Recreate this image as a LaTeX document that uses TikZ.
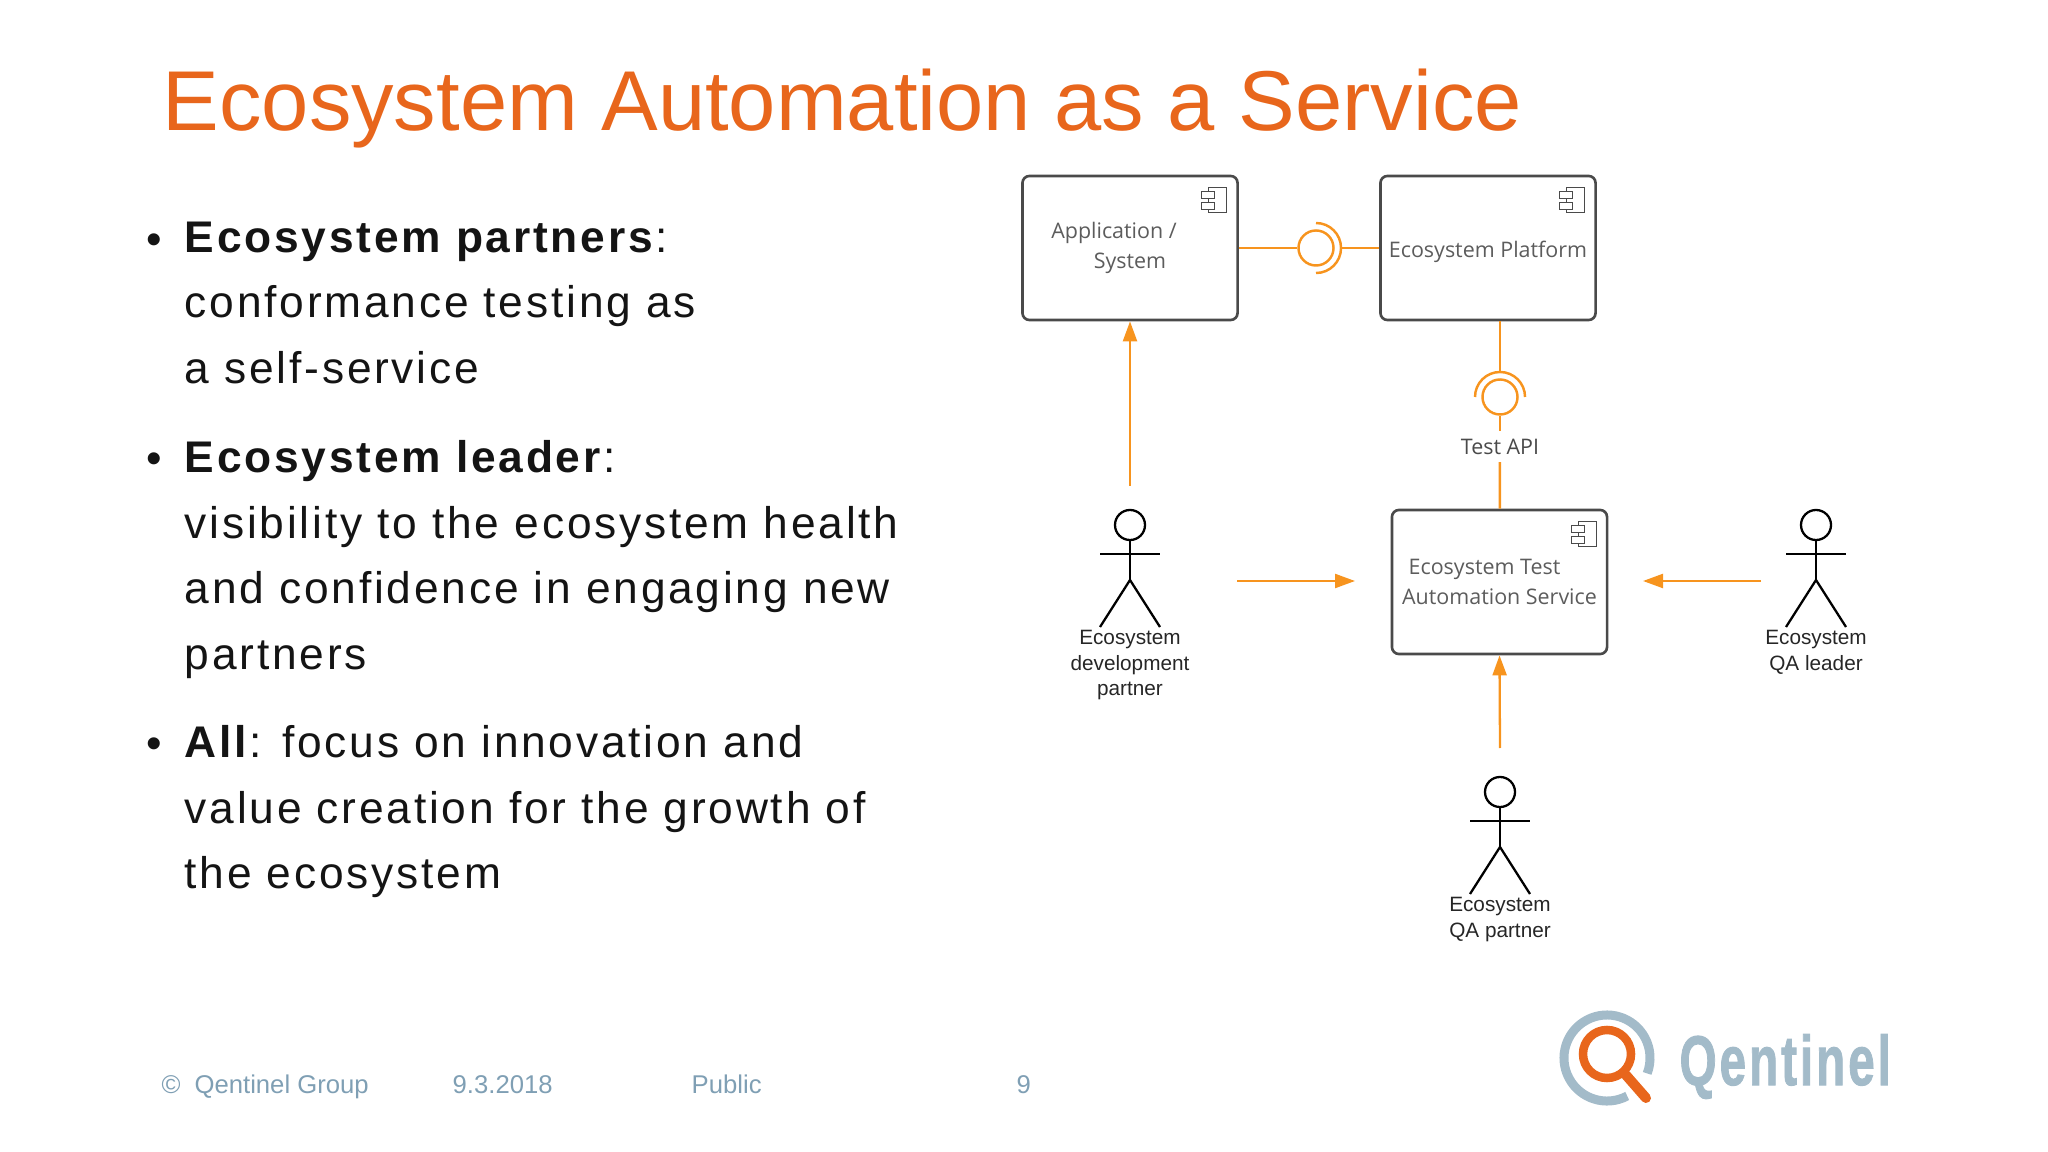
\documentclass[tikz,border=0pt]{standalone}
\usepackage{fontspec}
\setmainfont{Liberation Sans}
\newfontfamily\bodyfam[LetterSpace=6.3]{Liberation Sans}
\newfontfamily\boxfam{Open Sans}
\newfontfamily\logofam[LetterSpace=6, FakeBold=1.5]{Liberation Sans}
\usetikzlibrary{arrows.meta}

\definecolor{qorange}{HTML}{E8661C}
\definecolor{lineorange}{HTML}{F7941E}
\definecolor{footblue}{HTML}{7F9FB4}
\definecolor{logoblue}{HTML}{A3BBC9}
\definecolor{boxline}{HTML}{4A4A4A}

\tikzset{
    px/.style={x=0.01cm, y=-0.01cm},
    compbox/.style={draw=boxline, line width=0.75pt, rounded corners=2pt, minimum width=2.15cm, minimum height=1.44cm, inner sep=0pt, align=center, font=\boxfam\fontsize{6.1}{8.4}\selectfont, text=boxline!90},
    iface/.style={draw=lineorange, line width=0.7pt},
    ifacering/.style={circle, draw=lineorange, line width=0.7pt, minimum size=0.35cm, inner sep=0pt},
    flow/.style={draw=lineorange, line width=0.65pt, -{Triangle[length=0.2cm, width=0.14cm]}},
    actorlabel/.style={align=center, anchor=north, inner sep=0pt, text=black!85, font=\fontsize{5.9}{7.25}\selectfont},
    bodytext/.style={anchor=north west, inner sep=0pt, align=left, text=black!92, font=\bodyfam\fontsize{12.6}{18.6}\selectfont},
    foottext/.style={anchor=base west, inner sep=0pt, text=footblue, font=\fontsize{7.3}{9}\selectfont},
}

\begin{document}
\begin{tikzpicture}[px]
    \useasboundingbox (0, 0) rectangle (2048, 1152);

    \node[anchor=base west, inner sep=0pt, text=qorange, font=\fontsize{24.15}{29}\selectfont] (title) at (162, 130.5) {Ecosystem Automation as a Service};

    % bullet text
    \node[bodytext] (partners) at (184, 221) {\textbf{Ecosystem partners}:\\conformance testing as\\a self-service};
    \node[bodytext] (leader) at (184, 440) {\textbf{Ecosystem leader}:\\visibility to the ecosystem health\\and confidence in engaging new\\partners};
    \node[bodytext] (all) at (184, 725) {\textbf{All}: focus on innovation and\\value creation for the growth of\\the ecosystem};
    \foreach \p in {partners, leader, all} {
        \node[bodytext, anchor=north east, xshift=-0.21cm, yshift=-0.12cm] (\p dot) at (\p.north west) {•};
    }

    % components
    \node[compbox] (app) at (1130, 248) {Application /\hspace*{0.32cm}\\System};
    \node[compbox] (platform) at (1488, 248) {\rule{0pt}{0.24cm}Ecosystem Platform};
    \node[compbox] (testsvc) at (1499.5, 582) {Ecosystem Test\hspace*{0.3cm}\\Automation Service};
    \foreach \b in {app, platform, testsvc} {
        \draw[boxline, line width=0.3pt, shift={(\b.north east)}] (-30, 13) rectangle (-12, 38);
        \draw[boxline, line width=0.3pt, fill=white, shift={(\b.north east)}] (-37, 17) rectangle (-24, 24);
        \draw[boxline, line width=0.3pt, fill=white, shift={(\b.north east)}] (-37, 28) rectangle (-24, 35);
    }

    % interfaces
    \node[ifacering] (ifaceh) at (1316, 248) {};
    \coordinate (ifacehcup) at (1341, 248);
    \draw[iface] (1316, 223) arc [start angle=90, end angle=-90, radius=0.25cm];
    \draw[iface] (app) -- (ifaceh);
    \draw[iface] (ifacehcup) -- (platform);

    \node[ifacering] (ifacev) at (1500, 397) {};
    \coordinate (ifacevcup) at (1500, 372);
    \draw[iface] (1475, 397) arc [start angle=180, end angle=0, radius=0.25cm];
    \node[inner sep=0pt, minimum height=0.3cm, text=boxline, font=\boxfam\fontsize{6.1}{8}\selectfont] (testapi) at (1500, 446.5) {Test API};
    \draw[iface] (platform.south -| ifacev) -- (ifacevcup);
    \draw[iface] (ifacev) -- (testapi);
    \draw[iface] (testapi) -- (testsvc);

    % actors
    \foreach \n/\x/\y in {dev/1130/525, lead/1816/525, qa/1500/792} {
        \node[circle, draw, line width=0.65pt, minimum size=0.3cm, inner sep=0pt] (\n) at (\x, \y) {};
        \draw[line width=0.65pt] (\n.south) -- ++(0, 40) coordinate (\n hip);
        \draw[line width=0.65pt] (\x-30, \y+29) -- (\x+30, \y+29);
        \draw[line width=0.65pt] (\x-30, \y+102) -- (\x, \y+55) -- (\x+30, \y+102);
    }
    \node[actorlabel] (devlabel) at (1130, 630) {Ecosystem\\development\\partner};
    \node[actorlabel] (leadlabel) at (1816, 630) {Ecosystem\\QA leader};
    \node[actorlabel] (qalabel) at (1500, 897) {Ecosystem\\QA partner};

    % use arrows
    \coordinate (devup) at (1130, 486);
    \coordinate (devright) at (1237, 581);
    \coordinate (devarrow) at (1355, 581);
    \coordinate (leadleft) at (1761, 581);
    \coordinate (leadarrow) at (1643, 581);
    \coordinate (qaup) at (1500, 748);
    \draw[flow] (devup) -- (app.south);
    \draw[flow] (devright) -- (devarrow);
    \draw[flow] (leadleft) -- (leadarrow);
    \draw[flow] (qaup) -- (testsvc.south);

    % footer
    \node[foottext] (copyright) at (161, 1093) {©\hspace{0.14cm}Qentinel Group};
    \node[foottext] (date) at (452, 1093) {9.3.2018};
    \node[foottext] (public) at (691, 1093) {Public};
    \node[foottext] (pageno) at (1016, 1093) {9};

    % logo
    \draw[logoblue, line width=0.09cm] (1607, 1058) ++(-62:0.43cm) arc [start angle=-62, end angle=-381, radius=0.43cm];
    \node[circle, draw=qorange, line width=0.085cm, minimum size=0.48cm, inner sep=0pt] (lens) at (1607, 1054) {};
    \coordinate (handleend) at (1646, 1098);
    \draw[qorange, line width=0.1cm, line cap=round] (lens) ++(-48:0.28cm) -- (handleend);
    \node[anchor=base west, inner sep=0pt, xscale=0.68, text=logoblue, font=\logofam\bfseries\fontsize{20}{24}\selectfont] (logotext) at (1679, 1085) {Qentinel};
\end{tikzpicture}
\end{document}
